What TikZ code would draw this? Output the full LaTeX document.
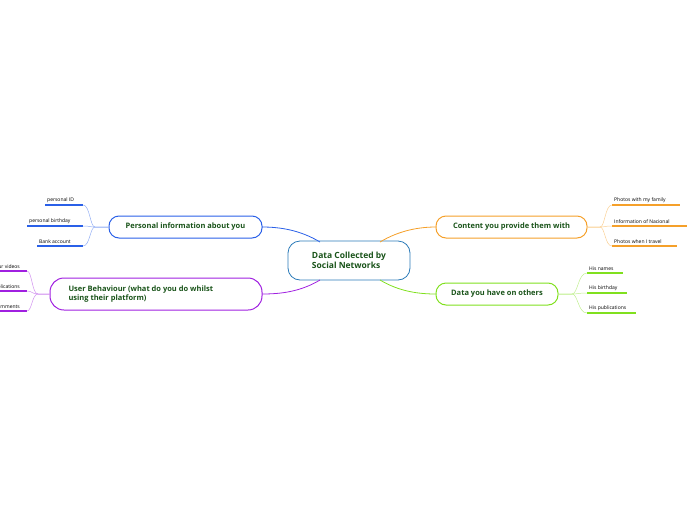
\documentclass[tikz,border=0pt]{standalone}
\usepackage{fontspec}
\setmainfont{Open Sans}
\begin{document}
\begin{tikzpicture}[x=1pt,y=-1pt,
 main/.style={draw,rounded corners=10pt,line width=1pt,font=\fontsize{7.5}{9.5}\selectfont\bfseries,text=green!25!black!90,align=left,inner sep=0pt},
 leaf/.style={font=\fontsize{5}{6}\selectfont,anchor=south west,inner sep=2pt}]
\clip (0,0) rectangle (697,520);
\useasboundingbox (0,0) rectangle (697,520);
\definecolor{cb}{HTML}{2A60E8}\definecolor{co}{HTML}{F5A02A}\definecolor{cg}{HTML}{80E01E}\definecolor{cp}{HTML}{A020E0}\definecolor{cc}{HTML}{2A7AB8}
% center
\draw[cc,line width=0.8pt,rounded corners=12pt] (288,241) rectangle (410,280);
\node[main,draw=none,font=\fontsize{8.5}{10.5}\selectfont\bfseries] (c) at (349,260.5) {Data Collected by\\Social Networks};
\coordinate (cl) at (320,242); \coordinate (cr) at (380,242);
\coordinate (cbl) at (320,280); \coordinate (cbr) at (380,280);
% branches
\draw[cb,line width=1pt,rounded corners=10pt] (109,216) rectangle (262,238);
\node[main,draw=none] (p) at (185.5,227) {Personal information about you};
\draw[co,line width=1pt,rounded corners=10pt] (436,216) rectangle (587,238);
\node[main,draw=none] (k) at (511.5,227) {Content you provide them with};
\draw[cg,line width=1pt,rounded corners=10pt] (436,283) rectangle (558,305);
\node[main,draw=none] (d) at (497,294) {Data you have on others};
\draw[cp,line width=1pt,rounded corners=14pt] (50,278) rectangle (262,310);
\node[main,draw=none,anchor=west] (u) at (68,294) {User Behaviour (what do you do whilst\\using their platform)};
\coordinate (pr) at (262,227); \coordinate (kl) at (436,227);
\coordinate (dl) at (436,294); \coordinate (ur) at (262,294);
\draw[cb,line width=0.8pt] (cl) .. controls (300,230) and (280,227) .. (pr);
\draw[co,line width=0.8pt] (cr) .. controls (400,230) and (420,227) .. (kl);
\draw[cg,line width=0.8pt] (cbr) .. controls (400,292) and (420,294) .. (dl);
\draw[cp,line width=0.8pt] (cbl) .. controls (300,292) and (280,294) .. (ur);
% leaves
\foreach \t/\xa/\y in {personal ID/45/205,personal birthday/27/226,Bank account/37/246}{
 \draw[cb,line width=1.2pt] (\xa,\y) -- (83,\y);
 \node[leaf] at (\xa,\y) {\t};
 \draw[cb!50,line width=0.5pt] (109,227) -- (95,227) .. controls (90,227) and (90,\y) .. (83,\y);}
\foreach \t/\xb/\y in {Photos with my family/680/205,Information of Nacional/687/226,Photos when I travel/677/246}{
 \draw[co,line width=1.2pt] (612,\y) -- (\xb,\y);
 \node[leaf] at (612,\y) {\t};
 \draw[co!50,line width=0.5pt] (587,227) -- (600,227) .. controls (605,227) and (605,\y) .. (612,\y);}
\foreach \t/\xb/\y in {His names/623/273,His birthday/627/293,His publications/636/313}{
 \draw[cg,line width=1.2pt] (587,\y) -- (\xb,\y);
 \node[leaf] at (587,\y) {\t};
 \draw[cg!50,line width=0.5pt] (558,294) -- (572,294) .. controls (578,294) and (578,\y) .. (587,\y);}
\foreach \t/\y in {Your videos/271,Publications/291,Comments/311}{
 \draw[cp,line width=1.2pt] (-20,\y) -- (27,\y);
 \node[leaf,anchor=south east] at (22,\y) {\t};
 \draw[cp!50,line width=0.5pt] (50,294) -- (38,294) .. controls (32,294) and (32,\y) .. (27,\y);}
\end{tikzpicture}
\end{document}
